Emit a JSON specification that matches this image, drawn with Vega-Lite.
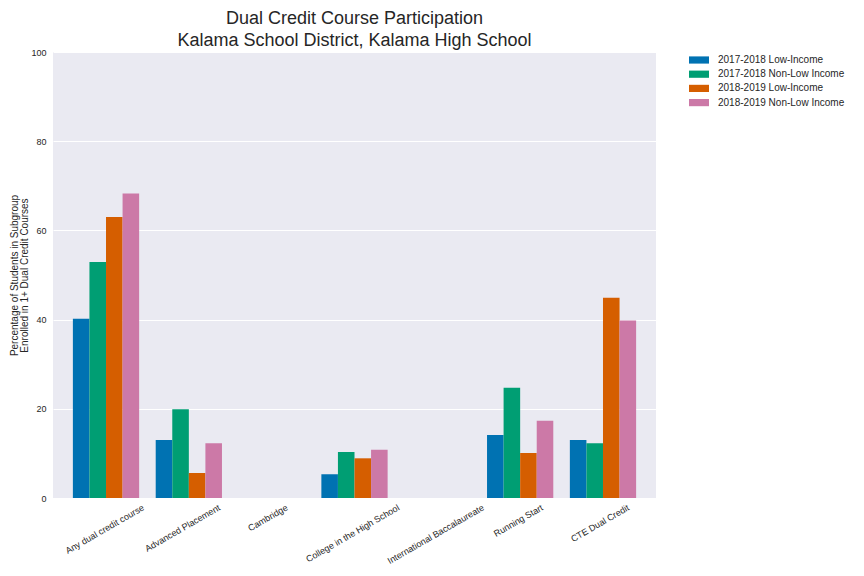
{
  "$schema": "https://vega.github.io/schema/vega-lite/v6.json",
  "width": 603,
  "height": 446,
  "autosize": "none",
  "padding": {"left": 53, "top": 52, "right": 208, "bottom": 78},
  "background": "white",
  "title": {
    "text": ["Dual Credit Course Participation", "Kalama School District, Kalama High School"],
    "font": "Liberation Sans",
    "fontSize": 18,
    "fontWeight": "normal",
    "color": "#262626",
    "lineHeight": 22,
    "anchor": "middle",
    "offset": -2
  },
  "data": {
    "values": [
      {"course": "Any dual credit course", "group": "2017-2018 Low-Income", "pct": 40.2},
      {"course": "Any dual credit course", "group": "2017-2018 Non-Low Income", "pct": 52.9},
      {"course": "Any dual credit course", "group": "2018-2019 Low-Income", "pct": 63.0},
      {"course": "Any dual credit course", "group": "2018-2019 Non-Low Income", "pct": 68.3},
      {"course": "Advanced Placement", "group": "2017-2018 Low-Income", "pct": 13.0},
      {"course": "Advanced Placement", "group": "2017-2018 Non-Low Income", "pct": 19.9},
      {"course": "Advanced Placement", "group": "2018-2019 Low-Income", "pct": 5.6},
      {"course": "Advanced Placement", "group": "2018-2019 Non-Low Income", "pct": 12.3},
      {"course": "Cambridge", "group": "2017-2018 Low-Income", "pct": 0},
      {"course": "Cambridge", "group": "2017-2018 Non-Low Income", "pct": 0},
      {"course": "Cambridge", "group": "2018-2019 Low-Income", "pct": 0},
      {"course": "Cambridge", "group": "2018-2019 Non-Low Income", "pct": 0},
      {"course": "College in the High School", "group": "2017-2018 Low-Income", "pct": 5.3},
      {"course": "College in the High School", "group": "2017-2018 Non-Low Income", "pct": 10.3},
      {"course": "College in the High School", "group": "2018-2019 Low-Income", "pct": 8.9},
      {"course": "College in the High School", "group": "2018-2019 Non-Low Income", "pct": 10.8},
      {"course": "International Baccalaureate", "group": "2017-2018 Low-Income", "pct": 0},
      {"course": "International Baccalaureate", "group": "2017-2018 Non-Low Income", "pct": 0},
      {"course": "International Baccalaureate", "group": "2018-2019 Low-Income", "pct": 0},
      {"course": "International Baccalaureate", "group": "2018-2019 Non-Low Income", "pct": 0},
      {"course": "Running Start", "group": "2017-2018 Low-Income", "pct": 14.1},
      {"course": "Running Start", "group": "2017-2018 Non-Low Income", "pct": 24.7},
      {"course": "Running Start", "group": "2018-2019 Low-Income", "pct": 10.1},
      {"course": "Running Start", "group": "2018-2019 Non-Low Income", "pct": 17.3},
      {"course": "CTE Dual Credit", "group": "2017-2018 Low-Income", "pct": 13.0},
      {"course": "CTE Dual Credit", "group": "2017-2018 Non-Low Income", "pct": 12.3},
      {"course": "CTE Dual Credit", "group": "2018-2019 Low-Income", "pct": 44.9},
      {"course": "CTE Dual Credit", "group": "2018-2019 Non-Low Income", "pct": 39.8}
    ]
  },
  "mark": {"type": "bar"},
  "encoding": {
    "x": {
      "field": "course",
      "type": "nominal",
      "sort": null,
      "scale": {"paddingInner": 0.2, "paddingOuter": 0.24},
      "axis": {
        "title": null,
        "labelAngle": -30,
        "labelAlign": "right",
        "labelBaseline": "top",
        "labelPadding": 5,
        "labelOffset": {"expr": "length(datum.label) * 1.7 - 2"},
        "ticks": false,
        "domain": false,
        "grid": false
      }
    },
    "xOffset": {
      "field": "group",
      "type": "nominal",
      "scale": {"paddingInner": 0, "paddingOuter": 0}
    },
    "y": {
      "field": "pct",
      "type": "quantitative",
      "scale": {"domain": [0, 100], "nice": false},
      "axis": {
        "title": ["Percentage of Students in Subgroup", "Enrolled in 1+ Dual Credit Courses"],
        "titleFontSize": 10,
        "titleFontWeight": "normal",
        "titleLineHeight": 10,
        "titlePadding": 1,
        "values": [0, 20, 40, 60, 80, 100],
        "ticks": false,
        "domain": false,
        "labelPadding": 7,
        "gridColor": "white",
        "gridWidth": 1
      }
    },
    "color": {
      "field": "group",
      "type": "nominal",
      "scale": {"range": ["#0072B2", "#009E73", "#D55E00", "#CC79A7"]},
      "legend": {
        "title": null,
        "orient": "none",
        "legendX": 641,
        "legendY": 3,
        "symbolType": "M-2.5,-0.9H2.5V0.9H-2.5Z",
        "symbolSize": 64,
        "symbolStrokeWidth": 0,
        "labelFontSize": 10,
        "labelOffset": 14,
        "rowPadding": 4.2
      }
    }
  },
  "config": {
    "font": "Liberation Sans",
    "view": {"fill": "#EAEAF2", "stroke": null},
    "axis": {
      "labelFont": "Liberation Sans",
      "titleFont": "Liberation Sans",
      "labelFontSize": 9,
      "labelColor": "#262626",
      "titleColor": "#262626"
    },
    "legend": {"labelFont": "Liberation Sans", "labelColor": "#262626"}
  }
}
